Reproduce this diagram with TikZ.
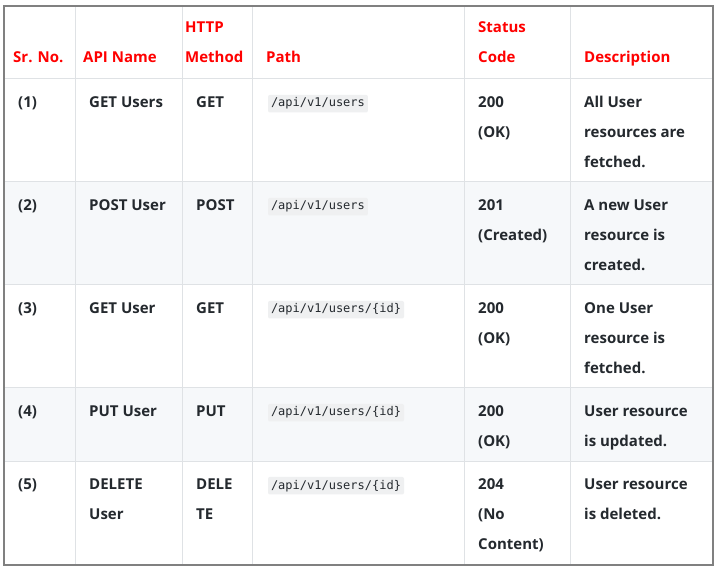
\documentclass[tikz,border=0pt]{standalone}
\usepackage{fontspec}
\setmainfont{Open Sans}
\setmonofont{DejaVu Sans Mono}
\definecolor{txt}{RGB}{36,41,46}
\definecolor{codebg}{RGB}{239,240,241}
\definecolor{rowbg}{RGB}{246,248,250}
\definecolor{grid}{RGB}{223,226,229}
\definecolor{frame}{RGB}{128,128,128}
\newcommand{\tl}{\rule{0pt}{12pt}}
\begin{document}
\begin{tikzpicture}[x=1pt,y=-1pt,
  hd/.style={anchor=base west,inner sep=0pt,text=red,font=\fontsize{15}{15}\selectfont\bfseries},
  bd/.style={anchor=north west,inner sep=0pt,text=txt,font=\fontsize{15}{30}\selectfont\bfseries,align=left},
  cd/.style={anchor=base west,inner sep=3pt,outer sep=0pt,fill=codebg,rounded corners=2pt,font=\fontsize{12}{12}\selectfont\ttfamily,text=txt},
  gl/.style={draw=grid,line width=1pt}]
\useasboundingbox (0,0) rectangle (718,569);
\fill[white] (0,0) rectangle (718,569);
\fill[rowbg] (4,182) rectangle (713,285);
\fill[rowbg] (4,388) rectangle (713,461);
\foreach \yy in {79,182,285,388,461} \draw[gl] (4,\yy) -- (713,\yy);
\foreach \xx in {75,182,252,464,570} \draw[gl] (\xx,6) -- (\xx,565);
\draw[frame,line width=1.2pt] (4,6) rectangle (713,565);
% header
\node[hd] (h1) at (13,63) {Sr. No.};
\node[hd] (h2) at (83,63) {API Name};
\node[hd] (h3a) at (185,33) {HTTP};
\node[hd] (h3) at (185,63) {Method};
\node[hd] (h4) at (266,63) {Path};
\node[hd] (h5a) at (478,33) {Status};
\node[hd] (h5) at (478,63) {Code};
\node[hd] (h6) at (584,63) {Description};
% rows
\foreach \n/\yy/\api/\m/\p/\s/\d in {
 1/107/{GET Users}/{GET}/{/api/v1/users}/{200\\(OK)}/{All User\\resources are\\fetched.},
 2/210/{POST User}/{POST}/{/api/v1/users}/{201\\(Created)}/{A new User\\resource is\\created.},
 3/313/{GET User}/{GET}/{/api/v1/users/\{id\}}/{200\\(OK)}/{One User\\resource is\\fetched.},
 4/416/{PUT User}/{PUT}/{/api/v1/users/\{id\}}/{200\\(OK)}/{User resource\\is updated.},
 5/489/{DELETE\\User}/{DELE\\TE}/{/api/v1/users/\{id\}}/{204\\(No\\Content)}/{User resource\\is deleted.}} {
  \node[bd] (r\n a) at (18,\yy-12) {\tl(\n)};
  \node[bd] (r\n b) at (89,\yy-12) {\tl\api};
  \node[bd] (r\n c) at (196,\yy-12) {\tl\m};
  \node[cd] (r\n d) at (268,\yy) {\p};
  \node[bd] (r\n e) at (478,\yy-12) {\tl\s};
  \node[bd] (r\n f) at (584,\yy-12) {\tl\d};
}
\end{tikzpicture}
\end{document}
